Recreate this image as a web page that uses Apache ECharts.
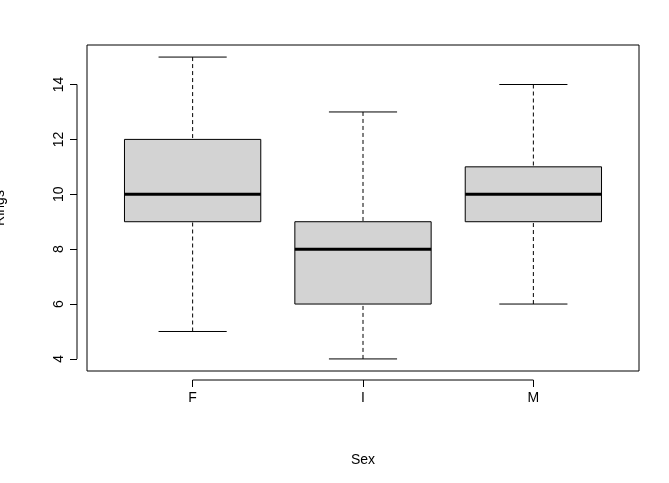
<!DOCTYPE html><html><head><meta charset="utf-8">
<script src="https://cdn.jsdelivr.net/npm/echarts@6/dist/echarts.min.js"></script>
<style>html,body{margin:0;padding:0;background:#fff}#c{width:669px;height:483px}</style></head><body><div id="c"></div>
<script>
const categories=['F','I','M'];
const lowWhisker=[5,4,6];
const q1=[9,6,9];
const medians=[10,8,10];
const q3=[12,9,11];
const highWhisker=[15,13,14];
const outliers=[[2,14],[2,15],[3,15],[3,5],[3,4]];
const yTicks=[4,6,8,10,12,14];
const chart=echarts.init(document.getElementById('c'));
const font='Liberation Sans, Arial, sans-serif';
const boxData=categories.map((c,i)=>[i+1,lowWhisker[i],q1[i],medians[i],q3[i],highWhisker[i]]);
chart.setOption({
 animation:false,
 grid:{left:87,right:30,top:45,bottom:112,show:true,borderColor:'#000',borderWidth:1,containLabel:false,outerBoundsMode:'none'},
 xAxis:{type:'value',min:0.38,max:3.62,offset:9,
  axisLine:{show:false},splitLine:{show:false},
  axisTick:{show:true,customValues:[1,2,3],length:7,lineStyle:{color:'#000'}},
  axisLabel:{customValues:[1,2,3],formatter:v=>categories[Math.round(v)-1],color:'#000',fontSize:14,fontFamily:font,margin:11},
  name:'Sex',nameLocation:'middle',nameGap:73,nameTextStyle:{color:'#000',fontSize:14,fontFamily:font}},
 yAxis:{type:'value',min:3.56,max:15.44,offset:10,
  axisLine:{show:false},splitLine:{show:false},
  axisTick:{show:true,customValues:yTicks,length:7,lineStyle:{color:'#000'}},
  axisLabel:{customValues:yTicks,rotate:90,color:'#000',fontSize:14,fontFamily:font,margin:11},
  name:'Rings',nameLocation:'middle',nameGap:70,nameTextStyle:{color:'#000',fontSize:14,fontFamily:font}},
 series:[
 {type:'custom',data:boxData,renderItem:(p,api)=>{
   const x=api.value(0);
   const pt=(a,b)=>api.coord([a,b]);
   const lo=api.value(1),a=api.value(2),m=api.value(3),b=api.value(4),hi=api.value(5);
   const bw=0.4,cw=0.2;
   const tl=pt(x-bw,b),br=pt(x+bw,a);
   const line=(p1,p2,w,dash)=>({type:'line',shape:{x1:p1[0],y1:p1[1],x2:p2[0],y2:p2[1]},style:{stroke:'#000',lineWidth:w,lineDash:dash||null}});
   return {type:'group',children:[
    line(pt(x,hi),pt(x,b),1,[4,3]),
    line(pt(x,lo),pt(x,a),1,[4,3]),
    line(pt(x-cw,hi),pt(x+cw,hi),1),
    line(pt(x-cw,lo),pt(x+cw,lo),1),
    {type:'rect',shape:{x:tl[0],y:tl[1],width:br[0]-tl[0],height:br[1]-tl[1]},style:{fill:'#d3d3d3',stroke:'#000',lineWidth:1}},
    line(pt(x-bw,m),pt(x+bw,m),3)
   ]};
 }},
 {type:'scatter',data:outliers,symbol:'emptyCircle',symbolSize:6,itemStyle:{color:'#fff',borderColor:'#000',borderWidth:0.9}},
 {type:'custom',data:[[0]],clip:false,renderItem:(p,api)=>{
   const y4=api.coord([0.38,yTicks[0]]),y14=api.coord([0.38,yTicks[yTicks.length-1]]);
   const x1=api.coord([1,3.56]),x3=api.coord([3,3.56]);
   return {type:'group',children:[
    {type:'line',shape:{x1:y4[0]-10,y1:y4[1],x2:y14[0]-10,y2:y14[1]},style:{stroke:'#000',lineWidth:1}},
    {type:'line',shape:{x1:x1[0],y1:x1[1]+9,x2:x3[0],y2:x3[1]+9},style:{stroke:'#000',lineWidth:1}}
   ]};
 }}
 ]
});
</script></body></html>
